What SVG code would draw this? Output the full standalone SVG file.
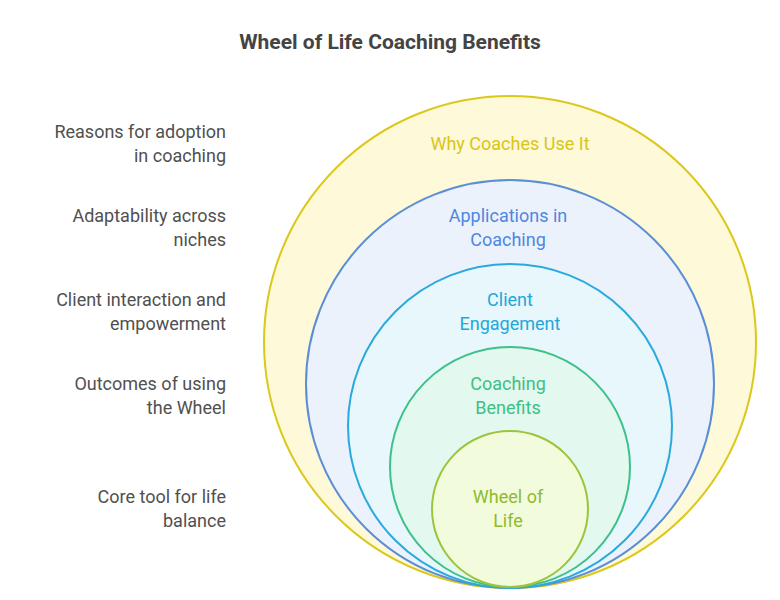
<svg xmlns="http://www.w3.org/2000/svg" width="780" height="600" viewBox="0 0 780 600">
<style>
text{font-family:"Roboto","Liberation Sans",sans-serif;font-size:18px}
.l{fill:#505050;text-anchor:end}
.c{text-anchor:middle}
circle{stroke-width:2}
</style>
<rect width="780" height="600" fill="#fff"/>
<text x="390" y="49" class="c" style="font-size:21px;font-weight:bold;fill:#444">Wheel of Life Coaching Benefits</text>
<g id="n1"><circle cx="510" cy="342" r="246" fill="#fdf9d9" stroke="#dcc81a"/><text x="510" y="150" class="c" fill="#d9c515">Why Coaches Use It</text></g>
<g id="n2"><circle cx="510" cy="384" r="204" fill="#ecf2fc" stroke="#5b8ed4"/><text x="508" y="222" class="c" fill="#4d87e2">Applications in</text><text x="508" y="246" class="c" fill="#4d87e2">Coaching</text></g>
<g id="n3"><circle cx="510" cy="426" r="162" fill="#e7f7fc" stroke="#2aa9dd"/><text x="510" y="306" class="c" fill="#22a7db">Client</text><text x="510" y="330" class="c" fill="#22a7db">Engagement</text></g>
<g id="n4"><circle cx="510" cy="467" r="120" fill="#e3f8ee" stroke="#3dc08a"/><text x="508" y="390" class="c" fill="#3ebf84">Coaching</text><text x="508" y="414" class="c" fill="#3ebf84">Benefits</text></g>
<g id="n5"><circle cx="510" cy="509" r="78" fill="#f2fcdc" stroke="#9cc43c"/><text x="508" y="503" class="c" fill="#90ba2e">Wheel of</text><text x="508" y="527" class="c" fill="#90ba2e">Life</text></g>
<g id="labels">
<text x="226" y="138" class="l">Reasons for adoption</text><text x="226" y="162" class="l">in coaching</text>
<text x="226" y="222" class="l">Adaptability across</text><text x="226" y="246" class="l">niches</text>
<text x="226" y="306" class="l">Client interaction and</text><text x="226" y="330" class="l">empowerment</text>
<text x="226" y="390" class="l">Outcomes of using</text><text x="226" y="414" class="l">the Wheel</text>
<text x="226" y="503" class="l">Core tool for life</text><text x="226" y="527" class="l">balance</text>
</g>
<g id="connectors"/>
</svg>
